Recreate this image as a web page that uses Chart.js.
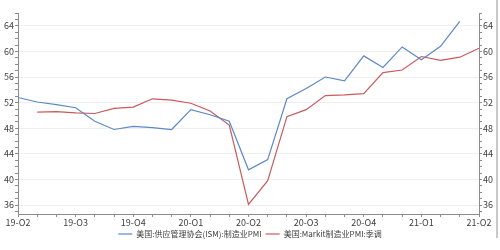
<!DOCTYPE html>
<html>
<head>
<meta charset="utf-8">
<script src="https://cdn.jsdelivr.net/npm/chart.js@4"></script>
<style>
  html, body { margin: 0; padding: 0; background: #fff; }
  #wrap { position: relative; width: 500px; height: 250px; }
  #edge { position: absolute; left: 496px; top: 0; width: 2px; height: 238px; background: #c8c8c8; }
</style>
</head>
<body>
<div id="wrap">
  <canvas id="pmiChart"></canvas>
  <div id="edge"></div>
</div>
<script>
// monthly points, 2019-04 .. 2021-04
const months = [
  "2019-04", "2019-05", "2019-06", "2019-07", "2019-08", "2019-09",
  "2019-10", "2019-11", "2019-12", "2020-01", "2020-02", "2020-03",
  "2020-04", "2020-05", "2020-06", "2020-07", "2020-08", "2020-09",
  "2020-10", "2020-11", "2020-12", "2021-01", "2021-02", "2021-03",
  "2021-04"
];
const quarterLabels = ["19-Q2", "19-Q3", "19-Q4", "20-Q1", "20-Q2", "20-Q3", "20-Q4", "21-Q1", "21-Q2"];

const ismPMI = [
  52.8, 52.1, 51.7, 51.2, 49.1, 47.8, 48.3, 48.1, 47.8, 50.9, 50.1, 49.1,
  41.5, 43.1, 52.6, 54.2, 56.0, 55.4, 59.3, 57.5, 60.7, 58.7, 60.8, 64.7,
  null
];
const markitPMI = [
  null, 50.5, 50.6, 50.4, 50.3, 51.1, 51.3, 52.6, 52.4, 51.9, 50.7, 48.5,
  36.1, 39.8, 49.8, 50.9, 53.1, 53.2, 53.4, 56.7, 57.1, 59.2, 58.6, 59.1,
  60.5
];
const seriesNames = ["美国:供应管理协会(ISM):制造业PMI", "美国:Markit制造业PMI:季调"];

const Y_MIN = 34.6;
const Y_MAX = 66;
const AXIS_COLOR = "#8c8c8c";
const TEXT_COLOR = "#404040";
const FONT = "'Noto Sans CJK SC', 'Noto Sans', sans-serif";

function yAxis(position, width) {
  return {
    type: "linear",
    position: position,
    min: Y_MIN,
    max: Y_MAX,
    border: { color: AXIS_COLOR, width: 1 },
    grid: {
      drawOnChartArea: position === "left",
      color: ctx => (ctx.tick && ctx.tick.value % 4 === 0 ? "#efefef" : "rgba(0,0,0,0)"),
      tickColor: AXIS_COLOR,
      tickLength: 3
    },
    ticks: {
      stepSize: 1,
      includeBounds: false,
      autoSkip: false,
      padding: 1,
      color: TEXT_COLOR,
      font: { family: FONT, size: 9 },
      callback: v => (v % 4 === 0 ? String(v) : "")
    },
    afterFit: scale => { scale.width = width; }
  };
}

new Chart(document.getElementById("pmiChart"), {
  type: "line",
  data: {
    labels: months,
    datasets: [
      {
        label: seriesNames[0],
        data: ismPMI,
        borderColor: "#5d88c6",
        borderWidth: 1.2,
        pointRadius: 0,
        tension: 0,
        yAxisID: "y"
      },
      {
        label: seriesNames[1],
        data: markitPMI,
        borderColor: "#c85a5e",
        borderWidth: 1.2,
        pointRadius: 0,
        tension: 0,
        yAxisID: "y"
      }
    ]
  },
  options: {
    responsive: true,
    maintainAspectRatio: false,
    animation: false,
    layout: { padding: { top: 13, bottom: 2, left: 0, right: 0 } },
    plugins: {
      tooltip: { enabled: false },
      legend: {
        position: "bottom",
        labels: {
          usePointStyle: true,
          pointStyle: "line",
          pointStyleWidth: 14,
          boxHeight: 1,
          padding: 4,
          color: TEXT_COLOR,
          font: { family: FONT, size: 8 }
        }
      }
    },
    scales: {
      x: {
        type: "category",
        offset: false,
        border: { color: AXIS_COLOR, width: 1 },
        grid: { drawOnChartArea: false, tickColor: AXIS_COLOR, tickLength: 3 },
        ticks: {
          autoSkip: false,
          maxRotation: 0,
          padding: 0,
          color: TEXT_COLOR,
          font: { family: FONT, size: 9 },
          callback: (v, i) => (i % 3 === 0 ? quarterLabels[i / 3] : "")
        },
        afterFit: scale => { scale.height = 12; }
      },
      y: yAxis("left", 18),
      y2: yAxis("right", 21)
    }
  }
});
</script>
</body>
</html>
